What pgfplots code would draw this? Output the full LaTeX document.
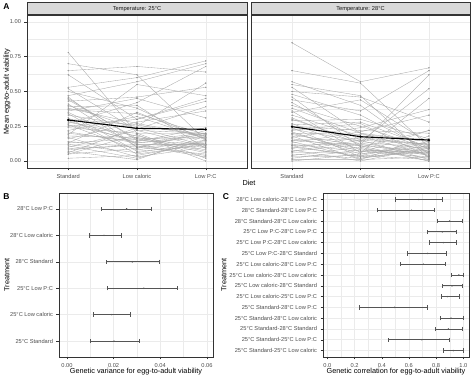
\documentclass[border=0pt]{standalone}
\usepackage{fontspec}
\setmainfont{Liberation Sans}
\usepackage{pgfplots}
\usepackage{pgfplotstable}
\pgfplotsset{compat=1.18}
\definecolor{gridc}{HTML}{EBEBEB}
\definecolor{txt}{HTML}{4D4D4D}
\definecolor{frame}{HTML}{333333}
\definecolor{stripbg}{HTML}{D9D9D9}
\definecolor{indiv}{HTML}{A8A8A8}
\definecolor{ebar}{HTML}{555555}

\pgfplotsset{
  gg/.style={scale only axis, axis line style={frame, line width=0.5pt},
    grid=both, major grid style={gridc, line width=0.5pt},
    minor grid style={gridc, line width=0.25pt},
    tick align=outside, major tick length=2.5pt, minor tick length=0pt,
    tick style={frame, line width=0.45pt},
    xtick pos=bottom, ytick pos=left,
    scaled x ticks=false, scaled y ticks=false,
    ticklabel style={font=\fontsize{5.7}{6.5}\selectfont, text=txt},
    /pgf/number format/assume math mode=true,
  },
  ylab/.style={every axis y label/.style={at={(axis description cs:#1,0.5)},
    rotate=90, anchor=center, font=\fontsize{7.3}{8.5}\selectfont}},
  xlab/.style={every axis x label/.style={at={(axis description cs:0.5,#1)},
    anchor=center, font=\fontsize{7.3}{8.5}\selectfont}},
  fmt/.style={/pgf/number format/fixed, /pgf/number format/fixed zerofill,
    /pgf/number format/precision=#1},
  indl/.style={indiv, line width=0.35pt, mark=*, mark size=0.45pt,
    mark options={draw=none, fill=black}},
  meanl/.style={black, line width=1.1pt, mark=*, mark size=0.5pt,
    mark options={draw=none, fill=black}},
  strip/.style={every axis title/.style={at={(axis description cs:0.5,1)}, anchor=south,
    fill=stripbg, draw=frame, line width=0.5pt, minimum width=#1,
    minimum height=12pt, inner sep=0pt, text=black!90,
    font=\fontsize{5.7}{6.5}\selectfont}},
}

\pgfplotstableread{
row mid lower upper
6 0.0256 0.0149 0.0360
5 0.0159 0.0097 0.0235
4 0.0280 0.0168 0.0394
3 0.0330 0.0174 0.0474
2 0.0192 0.0114 0.0273
1 0.0202 0.0100 0.0309
}\tblB

\pgfplotstableread{
row mid lower upper
15 0.673 0.502 0.843
14 0.620 0.365 0.790
13 0.900 0.806 0.990
12 0.846 0.738 0.946
11 0.853 0.750 0.951
10 0.738 0.590 0.873
9 0.706 0.540 0.870
8 0.968 0.914 1.000
7 0.917 0.848 0.993
6 0.882 0.836 0.973
5 0.495 0.235 0.735
4 0.909 0.833 1.000
3 0.890 0.794 0.995
2 0.696 0.450 0.895
1 0.926 0.850 1.000
}\tblC

\begin{document}
\begin{tikzpicture}
\path[use as bounding box] (0,0) rectangle (474pt,379pt);

% ---------------- Panel A, 25 C ----------------
\begin{axis}[gg, strip=220pt, ylab=-0.091, at={(27pt,211pt)}, anchor=south west,
  width=220pt, height=153pt,
  xmin=0.4, xmax=3.6, ymin=-0.05, ymax=1.05,
  xtick={1,2,3}, xticklabels={Standard, Low caloric, Low P:C},
  ytick={0,0.25,0.5,0.75,1}, minor ytick={0.125,0.375,0.625,0.875},
  yticklabel style={fmt=2},
  ylabel={Mean egg-to-adult viability},
  title={Temperature: 25°C}]
\addplot[indl] coordinates {(1,0.78)(2,0.20)(3,0.20)};
\addplot[indl] coordinates {(1,0.70)(2,0.62)(3,0.15)};
\addplot[indl] coordinates {(1,0.65)(2,0.68)(3,0.64)};
\addplot[indl] coordinates {(1,0.62)(2,0.30)(3,0.45)};
\addplot[indl] coordinates {(1,0.53)(2,0.60)(3,0.72)};
\addplot[indl] coordinates {(1,0.52)(2,0.22)(3,0.10)};
\addplot[indl] coordinates {(1,0.50)(2,0.38)(3,0.15)};
\addplot[indl] coordinates {(1,0.47)(2,0.57)(3,0.70)};
\addplot[indl] coordinates {(1,0.45)(2,0.15)(3,0.20)};
\addplot[indl] coordinates {(1,0.43)(2,0.46)(3,0.53)};
\addplot[indl] coordinates {(1,0.41)(2,0.10)(3,0.05)};
\addplot[indl] coordinates {(1,0.40)(2,0.23)(3,0.39)};
\addplot[indl] coordinates {(1,0.38)(2,0.27)(3,0.18)};
\addplot[indl] coordinates {(1,0.36)(2,0.45)(3,0.31)};
\addplot[indl] coordinates {(1,0.35)(2,0.12)(3,0.12)};
\addplot[indl] coordinates {(1,0.33)(2,0.25)(3,0.56)};
\addplot[indl] coordinates {(1,0.31)(2,0.05)(3,0.12)};
\addplot[indl] coordinates {(1,0.30)(2,0.26)(3,0.18)};
\addplot[indl] coordinates {(1,0.28)(2,0.18)(3,0.08)};
\addplot[indl] coordinates {(1,0.27)(2,0.42)(3,0.68)};
\addplot[indl] coordinates {(1,0.26)(2,0.08)(3,0.15)};
\addplot[indl] coordinates {(1,0.25)(2,0.30)(3,0.43)};
\addplot[indl] coordinates {(1,0.24)(2,0.20)(3,0.02)};
\addplot[indl] coordinates {(1,0.20)(2,0.14)(3,0.24)};
\addplot[indl] coordinates {(1,0.19)(2,0.55)(3,0.47)};
\addplot[indl] coordinates {(1,0.17)(2,0.03)(3,0.10)};
\addplot[indl] coordinates {(1,0.16)(2,0.28)(3,0.36)};
\addplot[indl] coordinates {(1,0.14)(2,0.10)(3,0.20)};
\addplot[indl] coordinates {(1,0.13)(2,0.16)(3,0.06)};
\addplot[indl] coordinates {(1,0.13)(2,0.35)(3,0.16)};
\addplot[indl] coordinates {(1,0.12)(2,0.06)(3,0.14)};
\addplot[indl] coordinates {(1,0.10)(2,0.22)(3,0.20)};
\addplot[indl] coordinates {(1,0.08)(2,0.12)(3,0.04)};
\addplot[indl] coordinates {(1,0.07)(2,0.01)(3,0.18)};
\addplot[indl] coordinates {(1,0.06)(2,0.24)(3,0.11)};
\addplot[indl] coordinates {(1,0.05)(2,0.09)(3,0.22)};
\addplot[indl] coordinates {(1,0.05)(2,0.19)(3,0.00)};
\addplot[indl] coordinates {(1,0.02)(2,0.04)(3,0.13)};
\addplot[indl] coordinates {(1,0.44)(2,0.16)(3,0.17)};
\addplot[indl] coordinates {(1,0.39)(2,0.40)(3,0.09)};
\addplot[indl] coordinates {(1,0.29)(2,0.13)(3,0.17)};
\addplot[indl] coordinates {(1,0.22)(2,0.32)(3,0.16)};
\addplot[indl] coordinates {(1,0.46)(2,0.10)(3,0.13)};
\addplot[indl] coordinates {(1,0.34)(2,0.07)(3,0.11)};
\addplot[indl] coordinates {(1,0.18)(2,0.17)(3,0.07)};
\addplot[indl] coordinates {(1,0.11)(2,0.02)(3,0.15)};
\addplot[indl] coordinates {(1,0.37)(2,0.34)(3,0.19)};
\addplot[indl] coordinates {(1,0.09)(2,0.11)(3,0.03)};
\addplot[indl] coordinates {(1,0.26)(2,0.15)(3,0.12)};
\addplot[indl] coordinates {(1,0.21)(2,0.13)(3,0.19)};
\addplot[meanl] coordinates {(1,0.295)(2,0.235)(3,0.228)};
\end{axis}

% ---------------- Panel A, 28 C ----------------
\begin{axis}[gg, strip=219pt, at={(251pt,211pt)}, anchor=south west,
  width=219pt, height=153pt,
  xmin=0.4, xmax=3.6, ymin=-0.05, ymax=1.05,
  xtick={1,2,3}, xticklabels={Standard, Low caloric, Low P:C},
  ytick={0,0.25,0.5,0.75,1}, minor ytick={0.125,0.375,0.625,0.875},
  yticklabels={}, ytick style={draw=none},
  title={Temperature: 28°C}]
\addplot[indl] coordinates {(1,0.85)(2,0.57)(3,0.67)};
\addplot[indl] coordinates {(1,0.65)(2,0.56)(3,0.10)};
\addplot[indl] coordinates {(1,0.57)(2,0.40)(3,0.05)};
\addplot[indl] coordinates {(1,0.55)(2,0.47)(3,0.02)};
\addplot[indl] coordinates {(1,0.53)(2,0.20)(3,0.14)};
\addplot[indl] coordinates {(1,0.50)(2,0.46)(3,0.28)};
\addplot[indl] coordinates {(1,0.48)(2,0.33)(3,0.08)};
\addplot[indl] coordinates {(1,0.46)(2,0.10)(3,0.22)};
\addplot[indl] coordinates {(1,0.44)(2,0.36)(3,0.65)};
\addplot[indl] coordinates {(1,0.42)(2,0.15)(3,0.01)};
\addplot[indl] coordinates {(1,0.40)(2,0.25)(3,0.09)};
\addplot[indl] coordinates {(1,0.36)(2,0.06)(3,0.45)};
\addplot[indl] coordinates {(1,0.35)(2,0.44)(3,0.13)};
\addplot[indl] coordinates {(1,0.33)(2,0.18)(3,0.04)};
\addplot[indl] coordinates {(1,0.31)(2,0.12)(3,0.62)};
\addplot[indl] coordinates {(1,0.29)(2,0.30)(3,0.16)};
\addplot[indl] coordinates {(1,0.27)(2,0.08)(3,0.06)};
\addplot[indl] coordinates {(1,0.25)(2,0.22)(3,0.20)};
\addplot[indl] coordinates {(1,0.24)(2,0.03)(3,0.11)};
\addplot[indl] coordinates {(1,0.23)(2,0.14)(3,0.52)};
\addplot[indl] coordinates {(1,0.22)(2,0.27)(3,0.03)};
\addplot[indl] coordinates {(1,0.21)(2,0.05)(3,0.14)};
\addplot[indl] coordinates {(1,0.20)(2,0.19)(3,0.15)};
\addplot[indl] coordinates {(1,0.19)(2,0.11)(3,0.07)};
\addplot[indl] coordinates {(1,0.18)(2,0.01)(3,0.18)};
\addplot[indl] coordinates {(1,0.17)(2,0.24)(3,0.37)};
\addplot[indl] coordinates {(1,0.16)(2,0.09)(3,0.02)};
\addplot[indl] coordinates {(1,0.15)(2,0.16)(3,0.12)};
\addplot[indl] coordinates {(1,0.14)(2,0.02)(3,0.09)};
\addplot[indl] coordinates {(1,0.13)(2,0.21)(3,0.33)};
\addplot[indl] coordinates {(1,0.12)(2,0.07)(3,0.05)};
\addplot[indl] coordinates {(1,0.11)(2,0.13)(3,0.05)};
\addplot[indl] coordinates {(1,0.10)(2,0.04)(3,0.01)};
\addplot[indl] coordinates {(1,0.09)(2,0.17)(3,0.12)};
\addplot[indl] coordinates {(1,0.08)(2,0.00)(3,0.10)};
\addplot[indl] coordinates {(1,0.07)(2,0.12)(3,0.04)};
\addplot[indl] coordinates {(1,0.06)(2,0.06)(3,0.22)};
\addplot[indl] coordinates {(1,0.05)(2,0.02)(3,0.08)};
\addplot[indl] coordinates {(1,0.04)(2,0.10)(3,0.00)};
\addplot[indl] coordinates {(1,0.03)(2,0.04)(3,0.13)};
\addplot[indl] coordinates {(1,0.02)(2,0.08)(3,0.06)};
\addplot[indl] coordinates {(1,0.01)(2,0.01)(3,0.03)};
\addplot[indl] coordinates {(1,0.00)(2,0.05)(3,0.11)};
\addplot[indl] coordinates {(1,0.38)(2,0.20)(3,0.07)};
\addplot[indl] coordinates {(1,0.30)(2,0.14)(3,0.09)};
\addplot[indl] coordinates {(1,0.26)(2,0.28)(3,0.10)};
\addplot[indl] coordinates {(1,0.20)(2,0.07)(3,0.03)};
\addplot[indl] coordinates {(1,0.15)(2,0.11)(3,0.00)};
\addplot[indl] coordinates {(1,0.11)(2,0.03)(3,0.07)};
\addplot[indl] coordinates {(1,0.07)(2,0.15)(3,0.12)};
\addplot[meanl] coordinates {(1,0.247)(2,0.175)(3,0.151)};
\end{axis}

\node[font=\fontsize{7.3}{8.5}\selectfont] at (249pt,196pt) {Diet};
\node[font=\bfseries\fontsize{8.5}{9}\selectfont] at (6.5pt,372pt) {A};
\node[font=\bfseries\fontsize{8.5}{9}\selectfont] at (6.5pt,182pt) {B};
\node[font=\bfseries\fontsize{8.5}{9}\selectfont] at (226pt,182pt) {C};

% ---------------- Panel B ----------------
\begin{axis}[gg, ylab=-0.338, xlab=-0.092, at={(59pt,22pt)}, anchor=south west,
  width=154pt, height=164pt,
  xmin=-0.0034, xmax=0.0626, ymin=0.4, ymax=6.6,
  xtick={0,0.02,0.04,0.06}, minor xtick={0.01,0.03,0.05},
  xticklabel style={fmt=2},
  ytick={1,2,3,4,5,6},
  yticklabels={25°C Standard, 25°C Low caloric, 25°C Low P:C, 28°C Standard, 28°C Low caloric, 28°C Low P:C},
  xlabel={Genetic variance for egg-to-adult viability},
  ylabel={Treatment}]
\addplot[only marks, mark=*, mark size=0.5pt, color=ebar,
  error bars/.cd, x dir=both, x explicit,
  error bar style={ebar, line width=0.7pt},
  error mark options={ebar, line width=0.7pt, mark size=2.2pt, rotate=90}]
  table[x=mid, y=row,
    x error plus expr=\thisrow{upper}-\thisrow{mid},
    x error minus expr=\thisrow{mid}-\thisrow{lower}] {\tblB};
\end{axis}

% ---------------- Panel C ----------------
\begin{axis}[gg, ylab=-0.678, xlab=-0.092, at={(323pt,22pt)}, anchor=south west,
  width=146pt, height=164pt,
  xmin=-0.032, xmax=1.042, ymin=0.4, ymax=15.6,
  xtick={0,0.2,0.4,0.6,0.8,1}, minor xtick={0.1,0.3,0.5,0.7,0.9},
  xticklabel style={fmt=1},
  ytick={1,...,15},
  yticklabels={
    25°C Standard-25°C Low caloric,
    25°C Standard-25°C Low P:C,
    25°C Standard-28°C Standard,
    25°C Standard-28°C Low caloric,
    25°C Standard-28°C Low P:C,
    25°C Low caloric-25°C Low P:C,
    25°C Low caloric-28°C Standard,
    25°C Low caloric-28°C Low caloric,
    25°C Low caloric-28°C Low P:C,
    25°C Low P:C-28°C Standard,
    25°C Low P:C-28°C Low caloric,
    25°C Low P:C-28°C Low P:C,
    28°C Standard-28°C Low caloric,
    28°C Standard-28°C Low P:C,
    28°C Low caloric-28°C Low P:C},
  xlabel={Genetic correlation for egg-to-adult viability},
  ylabel={Treatment}]
\addplot[only marks, mark=*, mark size=0.5pt, color=ebar,
  error bars/.cd, x dir=both, x explicit,
  error bar style={ebar, line width=0.7pt},
  error mark options={ebar, line width=0.7pt, mark size=2.2pt, rotate=90}]
  table[x=mid, y=row,
    x error plus expr=\thisrow{upper}-\thisrow{mid},
    x error minus expr=\thisrow{mid}-\thisrow{lower}] {\tblC};
\end{axis}
\end{tikzpicture}
\end{document}
